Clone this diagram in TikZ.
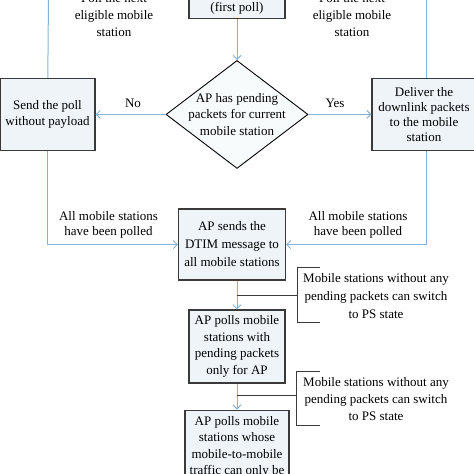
\documentclass[tikz,border=0pt]{standalone}
\usepackage{fontspec}
\setmainfont{Liberation Serif}
\usetikzlibrary{shapes.geometric, arrows.meta, positioning, calc}
\definecolor{flowline}{HTML}{86B3D6}
\definecolor{boxedge}{HTML}{3A3A3A}
\definecolor{boxfill}{HTML}{EEF4F8}

\begin{document}
\begin{tikzpicture}[
    x=1pt, y=-1pt,
    font=\fontsize{13}{16.5}\selectfont,
    stepbox/.style={rectangle, draw=boxedge, line width=1.1pt, fill=boxfill, align=center, inner sep=2pt},
    decision/.style={diamond, draw=black, line width=0.9pt, fill=boxfill!40, minimum width=142pt, minimum height=108pt, inner sep=0pt},
    arr/.style={-{Straight Barb[length=4pt, width=8pt]}, line width=1pt, color=flowline},
    flow/.style={line width=1pt, color=flowline},
    bracket/.style={line width=1pt, color=boxedge},
    note/.style={align=center, inner sep=0pt},
]
\useasboundingbox (0,0) rectangle (474,474);
\clip (0,0) rectangle (474,474);

% ─── Top: first poll and decision ───
\node[stepbox, anchor=south, minimum width=96pt, text height=30pt, text depth=4pt, inner ysep=3pt] (first) at (237,19) {(first poll)};
\node[decision, below=41pt of first,
      label={[align=center]center:AP has pending\\packets for current\\mobile station}] (check) {};

% ─── Branches ───
\node[stepbox, left=70pt of check, minimum width=95pt, minimum height=72pt] (nopoll) {Send the poll\\without payload};
\node[stepbox, right=63pt of check, minimum width=104pt, minimum height=72pt, font=\fontsize{13}{15}\selectfont] (deliver) {Deliver the\\downlink packets\\to the mobile\\station};

% ─── DTIM and polling boxes ───
\node[stepbox, minimum width=107pt, minimum height=71pt, font=\fontsize{13}{18}\selectfont] (dtim) at (232,244.5) {AP sends the\\DTIM message to\\all mobile stations};
\node[stepbox, minimum width=96pt, minimum height=73pt] (pollap) at (237,346.5) {AP polls mobile\\stations with\\pending packets\\only for AP};
\node[stepbox, below=26pt of pollap, minimum width=104pt, inner ysep=6pt] (pollm2m) {AP polls mobile\\stations whose\\mobile-to-mobile\\traffic can only be};

% ─── Side notes ───
\node[note, font=\fontsize{13}{18}\selectfont] (ps1) at (376,296) {Mobile stations without any\\pending packets can switch\\to PS state};
\node[note, font=\fontsize{13}{17}\selectfont] (ps2) at (376,399) {Mobile stations without any\\pending packets can switch\\to PS state};

% ─── Edge labels ───
\node[note, font=\fontsize{13}{17}\selectfont] (pollnextl) at (114,15) {Poll the next\\eligible mobile\\station};
\node[note, font=\fontsize{13}{17}\selectfont] (pollnextr) at (352,15) {Poll the next\\eligible mobile\\station};
\node[note] (nolbl) at (133,103) {No};
\node[note] (yeslbl) at (335,103) {Yes};
\node[note, font=\fontsize{13}{15}\selectfont] (polledl) at (108.5,224.5) {All mobile stations\\have been polled};
\node[note, font=\fontsize{13}{15}\selectfont] (polledr) at (358,224.5) {All mobile stations\\have been polled};

% ─── Arrows ───
\coordinate (ltop) at (48.5,-5);
\coordinate (rtop) at (426,-5);
\draw[arr] (first) -- (check);
\draw[arr] (check) -- (nopoll);
\draw[arr] (check) -- (deliver);
\draw[flow] (nopoll) -- (ltop);
\draw[flow] (deliver.north -| rtop) -- (rtop);
\draw[arr] (nopoll) |- (dtim);
\draw[arr] (deliver.south -| rtop) |- (dtim);
\draw[arr] (dtim.south -| pollap.north) -- (pollap);
\draw[arr] (pollap) -- (pollm2m);

% ─── Brackets ───
\coordinate (br1) at ($(ps1)+(-79,-1)$);
\coordinate (br2) at ($(ps2)+(-80,-4)$);
\draw[bracket] ($(ps1)+(-56,-29)$) -- ($(ps1)+(-79,-29)$) -- ($(ps1)+(-79,26)$) -- ($(ps1)+(-56,26)$);
\draw[bracket] (br1) -- (br1 -| pollap.north);
\draw[bracket] ($(ps2)+(-56,-28)$) -- ($(ps2)+(-80,-28)$) -- ($(ps2)+(-80,26)$) -- ($(ps2)+(-56,26)$);
\draw[bracket] (br2) -- (br2 -| pollap.north);

\end{tikzpicture}
\end{document}
